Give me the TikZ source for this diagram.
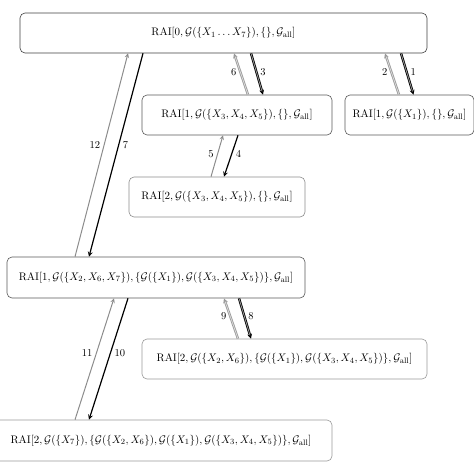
\documentclass[tikz,border=0pt]{standalone}
\usepackage{amsmath}
\usepackage{amssymb}
\usepackage{xcolor}
\usepackage{tikz}
\newcommand{\Gall}{\mathcal{G}_{\mathrm{all}}}
\tikzset{
    rai/.style = {rectangle, rounded corners=5pt, minimum height=40pt, inner sep=2pt, text centered, draw=black!65, semithick, fill=white, font=\fontsize{11}{13}\selectfont},
    down/.style = {line width=1.2pt, ->, >=stealth, black},
    up/.style = {line width=1pt, ->, >=stealth, black!45},
    downdbl/.style = {line width=0.8pt, double=black!40, double distance=0.8pt, ->, >=stealth, draw=black},
    updbl/.style = {line width=0.8pt, double=black!15, double distance=0.8pt, ->, >=stealth, draw=black!40},
    num/.style = {midway, inner sep=3.5pt, text=black, font=\fontsize{10.5}{12}\selectfont}
}
\begin{document}
\begin{tikzpicture}[x=1pt, y=-1pt]
\clip (0,0) rectangle (474,474);
\node (root) [rai, draw=black!75, minimum width=407pt] at (223.5,33) {$\mathrm{RAI}[0,\mathcal{G}(\{X_1\ldots X_7\}),\{\},\Gall]$};
\node (mid) [rai, minimum width=190pt] at (237,115) {$\mathrm{RAI}[1,\mathcal{G}(\{X_3,X_4,X_5\}),\{\},\Gall]$};
\node (one) [rai, minimum width=129pt] at (409.5,115) {$\mathrm{RAI}[1,\mathcal{G}(\{X_1\}),\{\},\Gall]$};
\node (midtwo) [rai, draw=black!45, minimum width=176pt] at (217,197) {$\mathrm{RAI}[2,\mathcal{G}(\{X_3,X_4,X_5\}),\{\},\Gall]$};
\node (left) [rai, minimum width=298pt, minimum height=41pt] at (156,277.5) {$\mathrm{RAI}[1,\mathcal{G}(\{X_2,X_6,X_7\}),\{\mathcal{G}(\{X_1\}),\mathcal{G}(\{X_3,X_4,X_5\})\},\Gall]$};
\node (lefttwo) [rai, draw=black!40, minimum width=285pt] at (284.5,359) {$\mathrm{RAI}[2,\mathcal{G}(\{X_2,X_6\}),\{\mathcal{G}(\{X_1\}),\mathcal{G}(\{X_3,X_4,X_5\})\},\Gall]$};
\node (last) [rai, draw=black!40, minimum width=352pt, minimum height=41pt] at (156,440.5) {\hspace*{10pt}$\mathrm{RAI}[2,\mathcal{G}(\{X_7\}),\{\mathcal{G}(\{X_2,X_6\}),\mathcal{G}(\{X_1\}),\mathcal{G}(\{X_3,X_4,X_5\})\},\Gall]$};

% down the tree
\draw [downdbl] ([xshift=177.5pt]root.south) -- node[num, right, pos=0.45] {1} ([xshift=4pt]one.north);
\draw [downdbl] ([xshift=27.5pt]root.south) -- node[num, right, pos=0.45] {3} ([xshift=26pt]mid.north);
\draw [down] ([xshift=1pt]mid.south) -- node[num, right, pos=0.45] {4} ([xshift=7pt]midtwo.north);
\draw [down] ([xshift=-80.5pt]root.south) -- node[num, right, pos=0.45] {7} ([xshift=-67pt]left.north);
\draw [downdbl] ([xshift=83pt]left.south) -- node[num, right, pos=0.45] {8} ([xshift=-33.5pt]lefttwo.north);
\draw [down] ([xshift=-28pt]left.south) -- node[num, right, pos=0.45] {10} ([xshift=-67pt]last.north);

% back up
\draw [updbl] ([xshift=-10.5pt]one.north) -- node[num, left, pos=0.55] {2} ([xshift=161.5pt]root.south);
\draw [up] ([xshift=-6pt]midtwo.north) -- node[num, left, pos=0.55] {5} ([xshift=-14pt]mid.south);
\draw [updbl] ([xshift=11pt]mid.north) -- node[num, left, pos=0.55] {6} ([xshift=10.5pt]root.south);
\draw [updbl] ([xshift=-46.5pt]lefttwo.north) -- node[num, left, pos=0.55] {9} ([xshift=68pt]left.south);
\draw [up] ([xshift=-81pt]last.north) -- node[num, left, pos=0.55] {11} ([xshift=-42pt]left.south);
\draw [up] ([xshift=-81pt]left.north) -- node[num, left, pos=0.55] {12} ([xshift=-95.5pt]root.south);
\end{tikzpicture}
\end{document}
